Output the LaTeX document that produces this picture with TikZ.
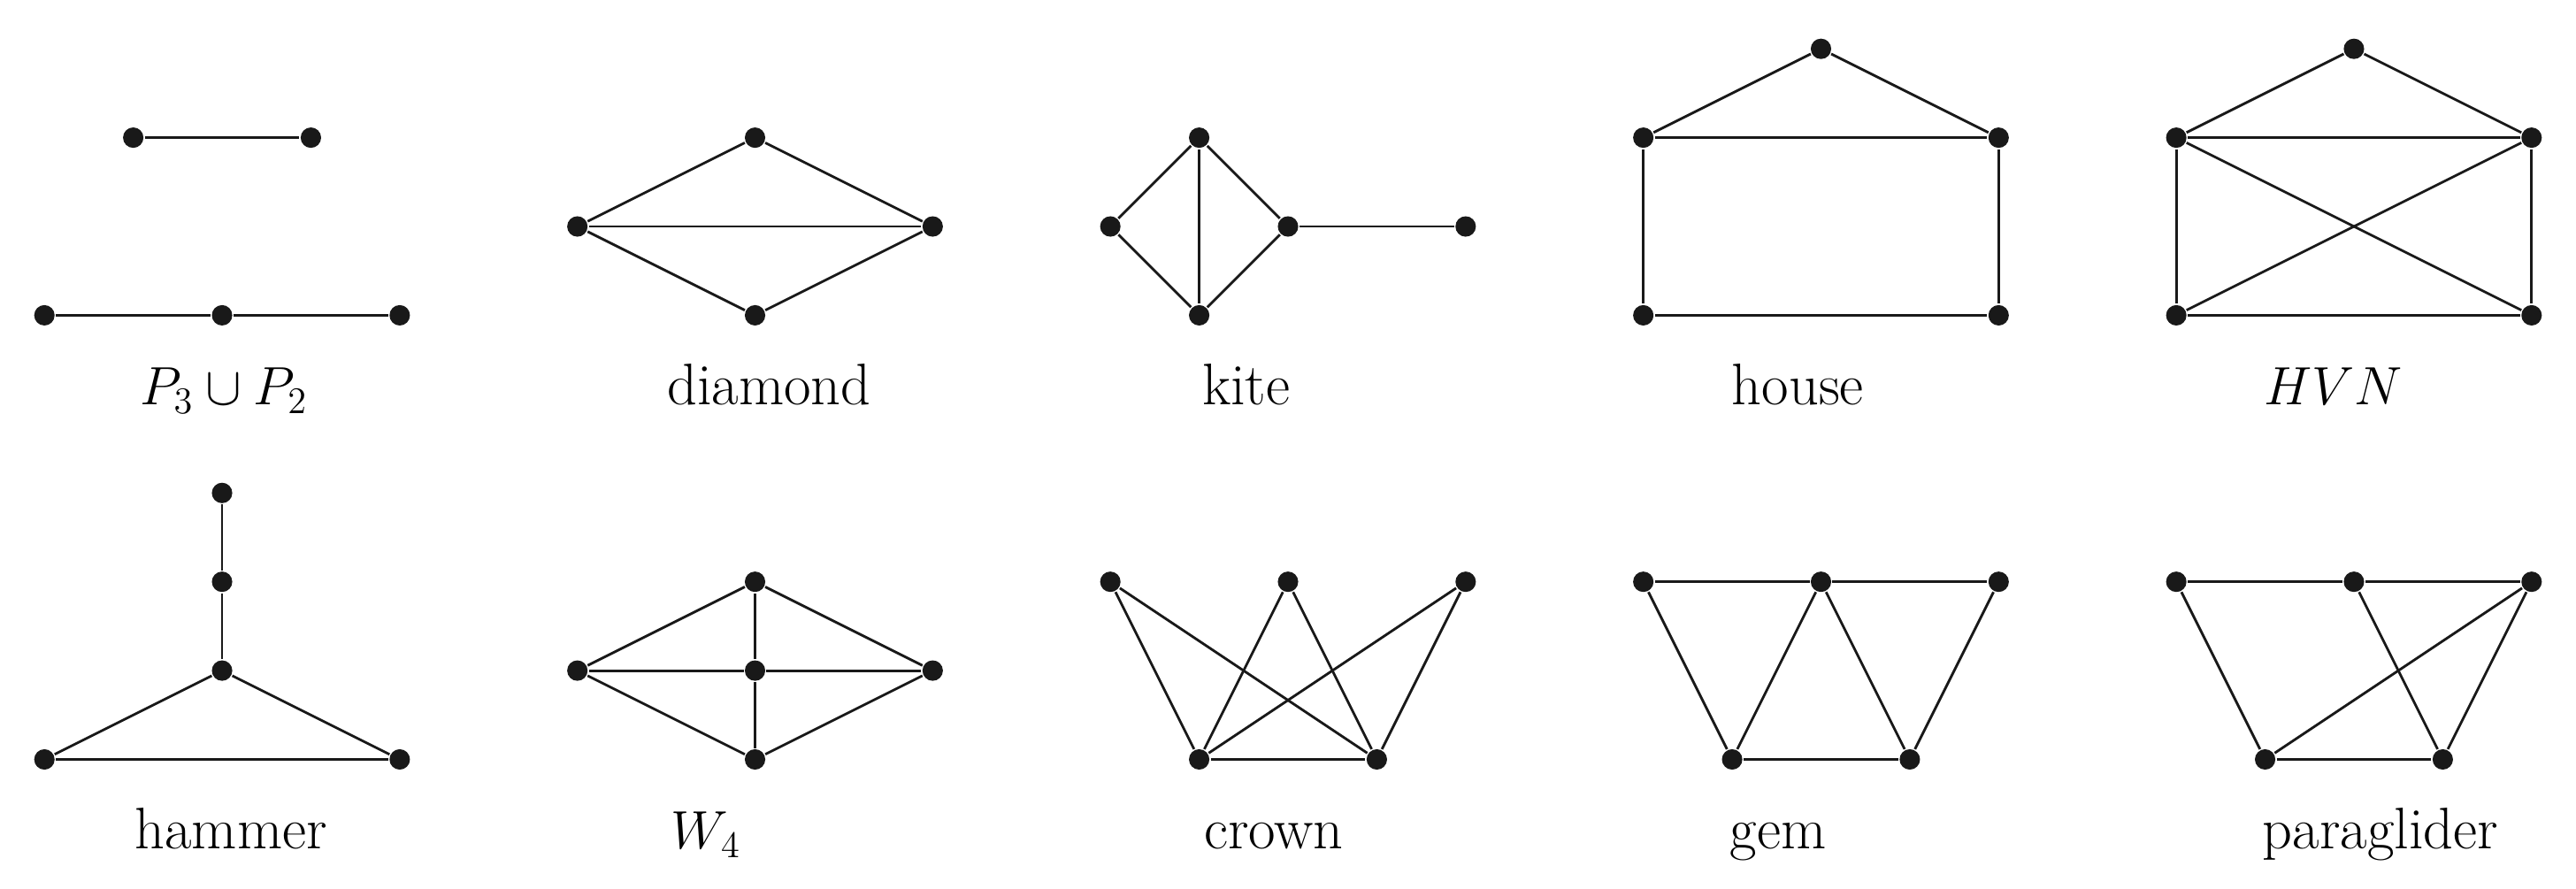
\documentclass[tikz,border=0pt]{standalone}
\usepackage{amsmath}
\usepackage{amssymb}

\begin{document}
\begin{tikzpicture}[x=1cm,y=1cm,line width=0.8pt,color=black!90,
  vertex/.style={circle,fill=black!90,inner sep=0pt,minimum size=0.23cm},
  gname/.style={anchor=base,text=black,font=\fontsize{18.8}{22}\selectfont}]
\useasboundingbox (0,0) rectangle (29,10);

% P3 u P2
\node[vertex] (Qa)  at (1.5,8.45)   {};
\node[vertex] (Qb)  at (3.5,8.45)   {};
\node[vertex] (Pa)  at (0.5,6.45)   {};
\node[vertex] (Pb)  at (2.5,6.45)   {};
\node[vertex] (Pc)  at (4.5,6.45)   {};
\node[gname] (Lpp)  at (2.52,5.44)   {$P_3\cup P_2$};
\draw[-] (Qa) -- (Qb);
\draw[-] (Pa) -- (Pb);
\draw[-] (Pb) -- (Pc);

% diamond
\node[vertex] (Dt)  at (8.5,8.45)   {};
\node[vertex] (Dl)  at (6.5,7.45)   {};
\node[vertex] (Dr)  at (10.5,7.45)   {};
\node[vertex] (Db)  at (8.5,6.45)   {};
\node[gname] (Ld)  at (8.66,5.44)   {diamond};
\draw[-] (Dl) -- (Dt);
\draw[-] (Dt) -- (Dr);
\draw[-] (Dr) -- (Db);
\draw[-] (Db) -- (Dl);
\draw[-] (Dl) -- (Dr);

% kite
\node[vertex] (Kl)  at (12.5,7.45)   {};
\node[vertex] (Kt)  at (13.5,8.45)   {};
\node[vertex] (Kb)  at (13.5,6.45)   {};
\node[vertex] (Kr)  at (14.5,7.45)   {};
\node[vertex] (Ke)  at (16.5,7.45)   {};
\node[gname] (Lk)  at (14.03,5.44)   {kite};
\draw[-] (Kl) -- (Kt);
\draw[-] (Kl) -- (Kb);
\draw[-] (Kt) -- (Kb);
\draw[-] (Kt) -- (Kr);
\draw[-] (Kb) -- (Kr);
\draw[-] (Kr) -- (Ke);

% house
\node[vertex] (Ht)  at (20.5,9.45)   {};
\node[vertex] (Hul)  at (18.5,8.45)   {};
\node[vertex] (Hur)  at (22.5,8.45)   {};
\node[vertex] (Hll)  at (18.5,6.45)   {};
\node[vertex] (Hlr)  at (22.5,6.45)   {};
\node[gname] (Lh)  at (20.24,5.44)   {house};
\draw[-] (Ht) -- (Hul);
\draw[-] (Ht) -- (Hur);
\draw[-] (Hul) -- (Hur);
\draw[-] (Hul) -- (Hll);
\draw[-] (Hur) -- (Hlr);
\draw[-] (Hll) -- (Hlr);

% HVN
\node[vertex] (Vt)  at (26.5,9.45)   {};
\node[vertex] (Vul)  at (24.5,8.45)   {};
\node[vertex] (Vur)  at (28.5,8.45)   {};
\node[vertex] (Vll)  at (24.5,6.45)   {};
\node[vertex] (Vlr)  at (28.5,6.45)   {};
\node[gname] (Lv)  at (26.27,5.44)   {$HVN$};
\draw[-] (Vt) -- (Vul);
\draw[-] (Vt) -- (Vur);
\draw[-] (Vul) -- (Vur);
\draw[-] (Vul) -- (Vll);
\draw[-] (Vur) -- (Vlr);
\draw[-] (Vll) -- (Vlr);
\draw[-] (Vul) -- (Vlr);
\draw[-] (Vur) -- (Vll);

% hammer
\node[vertex] (Ma)  at (2.5,4.45)   {};
\node[vertex] (Mb)  at (2.5,3.45)   {};
\node[vertex] (Mc)  at (2.5,2.45)   {};
\node[vertex] (Ml)  at (0.5,1.45)   {};
\node[vertex] (Mr)  at (4.5,1.45)   {};
\node[gname] (Lm)  at (2.60,0.44)   {hammer};
\draw[-] (Ma) -- (Mb);
\draw[-] (Mb) -- (Mc);
\draw[-] (Mc) -- (Ml);
\draw[-] (Mc) -- (Mr);
\draw[-] (Ml) -- (Mr);

% W4
\node[vertex] (Wt)  at (8.5,3.45)   {};
\node[vertex] (Wl)  at (6.5,2.45)   {};
\node[vertex] (Wc)  at (8.5,2.45)   {};
\node[vertex] (Wr)  at (10.5,2.45)   {};
\node[vertex] (Wb)  at (8.5,1.45)   {};
\node[gname] (Lw)  at (7.95,0.44)   {$W_4$};
\draw[-] (Wl) -- (Wt);
\draw[-] (Wt) -- (Wr);
\draw[-] (Wr) -- (Wb);
\draw[-] (Wb) -- (Wl);
\draw[-] (Wc) -- (Wt);
\draw[-] (Wc) -- (Wl);
\draw[-] (Wc) -- (Wr);
\draw[-] (Wc) -- (Wb);

% crown
\node[vertex] (Ca)  at (12.5,3.45)   {};
\node[vertex] (Cb)  at (14.5,3.45)   {};
\node[vertex] (Cc)  at (16.5,3.45)   {};
\node[vertex] (Cd)  at (13.5,1.45)   {};
\node[vertex] (Ce)  at (15.5,1.45)   {};
\node[gname] (Lc)  at (14.34,0.44)   {crown};
\draw[-] (Ca) -- (Cd);
\draw[-] (Ca) -- (Ce);
\draw[-] (Cb) -- (Cd);
\draw[-] (Cb) -- (Ce);
\draw[-] (Cc) -- (Cd);
\draw[-] (Cc) -- (Ce);
\draw[-] (Cd) -- (Ce);

% gem
\node[vertex] (Ga)  at (18.5,3.45)   {};
\node[vertex] (Gb)  at (20.5,3.45)   {};
\node[vertex] (Gc)  at (22.5,3.45)   {};
\node[vertex] (Gd)  at (19.5,1.45)   {};
\node[vertex] (Ge)  at (21.5,1.45)   {};
\node[gname] (Lg)  at (20.02,0.44)   {gem};
\draw[-] (Ga) -- (Gb);
\draw[-] (Gb) -- (Gc);
\draw[-] (Ga) -- (Gd);
\draw[-] (Gd) -- (Gb);
\draw[-] (Gb) -- (Ge);
\draw[-] (Ge) -- (Gc);
\draw[-] (Gd) -- (Ge);

% paraglider
\node[vertex] (Ra)  at (24.5,3.45)   {};
\node[vertex] (Rb)  at (26.5,3.45)   {};
\node[vertex] (Rc)  at (28.5,3.45)   {};
\node[vertex] (Rd)  at (25.5,1.45)   {};
\node[vertex] (Re)  at (27.5,1.45)   {};
\node[gname] (Lr)  at (26.8,0.44)   {paraglider};
\draw[-] (Ra) -- (Rb);
\draw[-] (Rb) -- (Rc);
\draw[-] (Ra) -- (Rd);
\draw[-] (Rd) -- (Re);
\draw[-] (Rc) -- (Rd);
\draw[-] (Rb) -- (Re);
\draw[-] (Rc) -- (Re);
\end{tikzpicture}
\end{document}
